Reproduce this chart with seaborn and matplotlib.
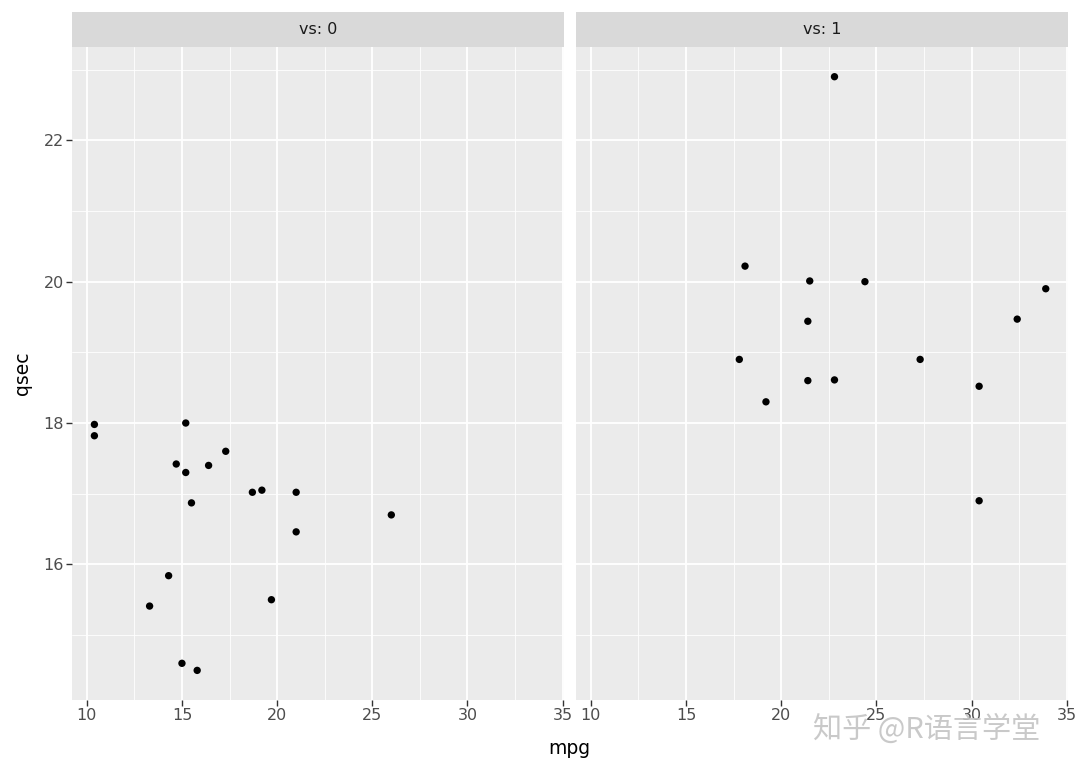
import matplotlib
matplotlib.use("Agg")
import matplotlib.pyplot as plt
import matplotlib.patches as mpatches
import seaborn as sns
import pandas as pd
import numpy as np

# mtcars: mpg, qsec, vs
mpg = [21.0, 21.0, 22.8, 21.4, 18.7, 18.1, 14.3, 24.4, 22.8, 19.2, 17.8,
       16.4, 17.3, 15.2, 10.4, 10.4, 14.7, 32.4, 30.4, 33.9, 21.5, 15.5,
       15.2, 13.3, 19.2, 27.3, 26.0, 30.4, 15.8, 19.7, 15.0, 21.4]
qsec = [16.46, 17.02, 18.61, 19.44, 17.02, 20.22, 15.84, 20.00, 22.90, 18.30, 18.90,
        17.40, 17.60, 18.00, 17.98, 17.82, 17.42, 19.47, 18.52, 19.90, 20.01, 16.87,
        17.30, 15.41, 17.05, 18.90, 16.70, 16.90, 14.50, 15.50, 14.60, 18.60]
vs = [0, 0, 1, 1, 0, 1, 0, 1, 1, 1, 1,
      0, 0, 0, 0, 0, 0, 1, 1, 1, 1, 0,
      0, 0, 0, 1, 0, 1, 0, 0, 0, 1]

df = pd.DataFrame({"mpg": mpg, "qsec": qsec, "vs": vs})

sns.set_style("dark")
plt.rcParams['font.family'] = ['DejaVu Sans']

g = sns.FacetGrid(df, col="vs", sharex=True, sharey=True, height=7.71, aspect=0.7)
g.map_dataframe(sns.scatterplot, x="mpg", y="qsec", color="black", s=28,
                edgecolor="none", linewidth=0)
fig = g.figure
fig.set_size_inches(10.8, 7.71)
fig.subplots_adjust(left=0.0667, right=0.989, top=0.939, bottom=0.092, wspace=0.0245)

xr = (min(mpg), max(mpg))
yr = (min(qsec), max(qsec))
xpad = (xr[1] - xr[0]) * 0.05
ypad = (yr[1] - yr[0]) * 0.05

for ax, level in zip(g.axes.flat, [0, 1]):
    ax.set_facecolor("#EBEBEB")
    ax.set_xlim(xr[0] - xpad, xr[1] + xpad)
    ax.set_ylim(yr[0] - ypad, yr[1] + ypad)
    ax.set_xticks([10, 15, 20, 25, 30, 35])
    ax.set_xticks([12.5, 17.5, 22.5, 27.5, 32.5], minor=True)
    ax.set_yticks([16, 18, 20, 22])
    ax.set_yticks([15, 17, 19, 21, 23], minor=True)
    ax.grid(True, which="major", color="white", linewidth=1.3)
    ax.grid(True, which="minor", color="white", linewidth=0.6)
    ax.set_axisbelow(True)
    for sp in ax.spines.values():
        sp.set_visible(False)
    ax.tick_params(which="major", length=4, width=1.0, color="#333333",
                   labelsize=11.5, labelcolor="#4D4D4D", pad=2, bottom=True, left=True)
    ax.tick_params(which="minor", length=0)
    ax.set_title("")
    ax.set_xlabel("")
    ax.set_ylabel("")
    # facet strip
    strip_h = 35 / (771 * (0.939 - 0.092))
    ax.add_patch(mpatches.Rectangle((0, 1), 1, strip_h, transform=ax.transAxes,
                                    facecolor="#D9D9D9", edgecolor="none", clip_on=False))
    ax.text(0.5, 1 + strip_h / 2, f"vs: {level}", transform=ax.transAxes,
            ha="center", va="center", fontsize=11.5, color="#1A1A1A")

g.axes.flat[1].tick_params(axis="y", left=False, labelleft=False)

fig.text(0.5275, 0.017, "mpg", ha="center", va="bottom", fontsize=13.5, color="black")
fig.text(0.012, 0.5155, "qsec", ha="left", va="center", rotation=90,
         fontsize=13.5, color="black")

fig.text(0.858, 0.054, "知乎 @R语言学堂", ha="center", va="center", fontsize=21,
         color="#C4C4C4", alpha=0.9, family=["Noto Sans CJK SC", "DejaVu Sans"])

fig.savefig("out.png", dpi=100)
